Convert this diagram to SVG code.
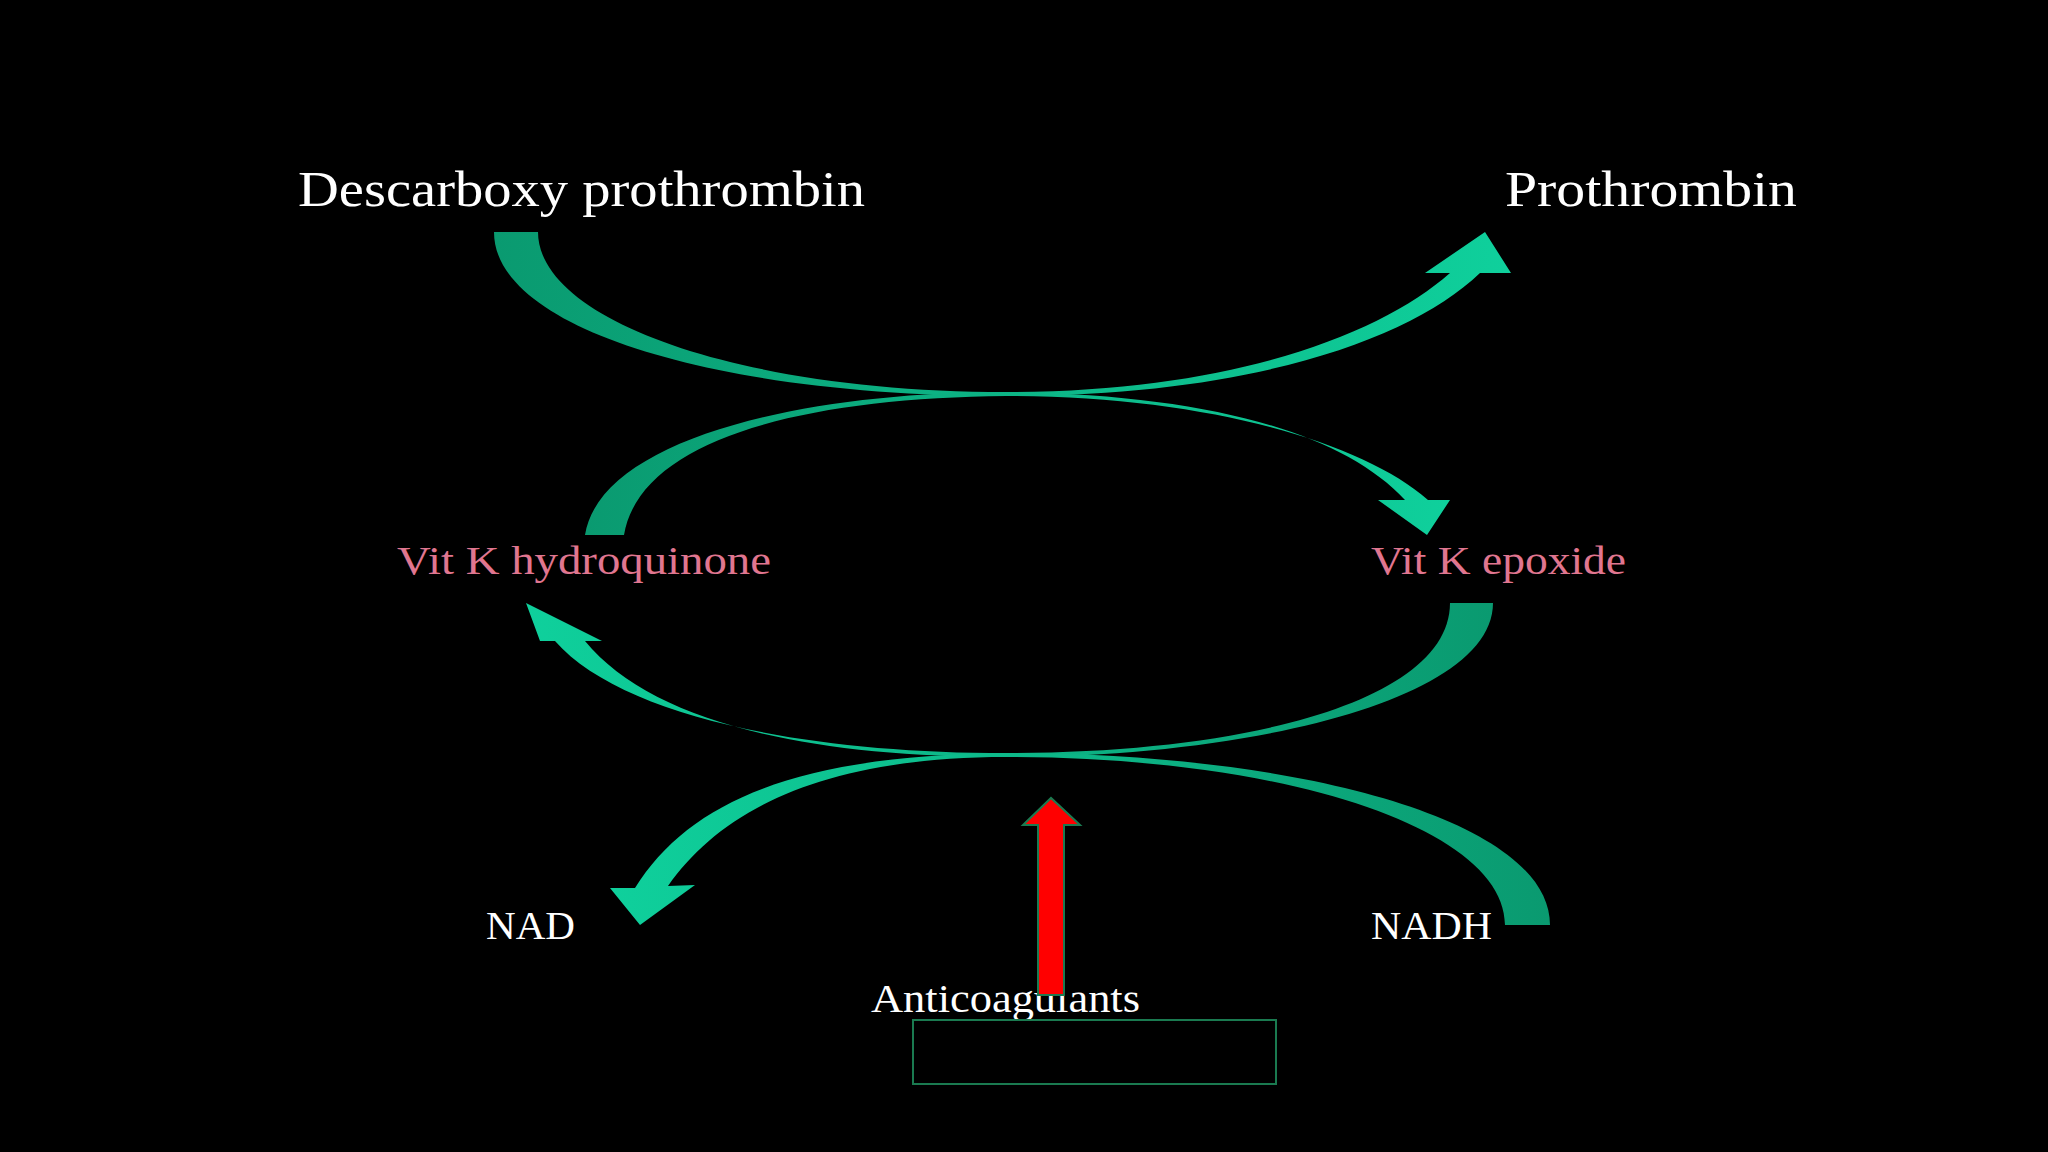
<svg xmlns="http://www.w3.org/2000/svg" width="2048" height="1152" viewBox="0 0 2048 1152">
<defs>
<linearGradient id="g1" x1="0" y1="0" x2="1" y2="0"><stop offset="0" stop-color="#0a9a70"/><stop offset="1" stop-color="#0fd09c"/></linearGradient>
<linearGradient id="g2" x1="1" y1="0" x2="0" y2="0"><stop offset="0" stop-color="#0a9a70"/><stop offset="1" stop-color="#0fd09c"/></linearGradient>
<style>
.w{fill:#ffffff;font-family:"Liberation Serif","DejaVu Serif",serif}
.p{fill:#e07690;font-family:"Liberation Serif","DejaVu Serif",serif;font-size:40px}
</style>
</defs>
<rect width="2048" height="1152" fill="#000"/>
<g id="n1"><text class="w" x="298" y="206" font-size="50" textLength="567" lengthAdjust="spacingAndGlyphs">Descarboxy prothrombin</text></g>
<g id="n2"><text class="w" x="1505" y="206" font-size="50" textLength="292" lengthAdjust="spacingAndGlyphs">Prothrombin</text></g>
<g id="n3"><text class="p" x="397" y="574" textLength="374" lengthAdjust="spacingAndGlyphs">Vit K hydroquinone</text></g>
<g id="n4"><text class="p" x="1371" y="574" textLength="255" lengthAdjust="spacingAndGlyphs">Vit K epoxide</text></g>
<g id="n5"><text class="w" x="486" y="939" font-size="40" textLength="89" lengthAdjust="spacingAndGlyphs">NAD</text></g>
<g id="n6"><text class="w" x="1371" y="939" font-size="40" textLength="121" lengthAdjust="spacingAndGlyphs">NADH</text></g>
<g id="n7"><text class="w" x="871" y="1012" font-size="40" textLength="269" lengthAdjust="spacingAndGlyphs">Anticoagulants</text><rect x="913" y="1020" width="363" height="64" fill="none" stroke="#1a7a50" stroke-width="2"/></g>
<g id="connectors">
<path id="a1" fill="url(#g1)" d="M494,232 L538,232 C538,320 740,392 1006,392 C1230,392 1380,335 1450,273 L1425,273 L1485,232 L1511,273 L1480,273 C1410,340 1250,396 1006,396 C720,396 494,330 494,232 Z"/>
<path id="a2" fill="url(#g1)" d="M585,535 C600,440 800,392 1006,392 C1200,394 1340,430 1405,500 L1378,500 L1427,535 L1450,500 L1428,500 C1360,440 1200,396 1006,396 C800,398 640,440 624,535 Z"/>
<path id="a3" fill="url(#g2)" d="M1493,603 C1493,700 1250,757 1006,757 C800,757 650,720 585,641 L602,641 L526,603 L540,641 L555,641 C620,715 800,753 1006,753 C1250,753 1450,700 1450,603 Z"/>
<path id="a4" fill="url(#g2)" d="M1550,925 C1550,820 1300,753 1006,753 C800,755 690,800 635,888 L610,888 L640,925 L695,885 L668,886 C720,812 820,757 1006,757 C1290,757 1505,830 1505,925 Z"/>
<path id="inhibit" fill="#ff0000" stroke="#1a7a50" stroke-width="2" d="M1038,995 L1038,825 L1023,825 L1051,798 L1080,825 L1064,825 L1064,995 Z"/>
</g>
</svg>
